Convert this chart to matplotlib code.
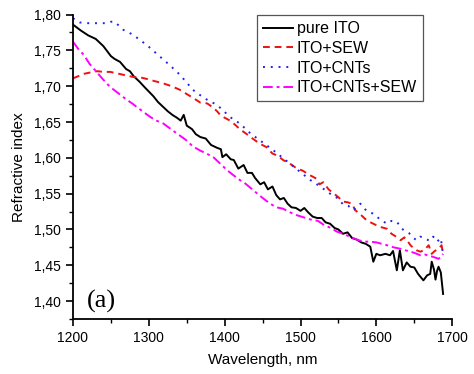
#!/usr/bin/env python3
"""Refractive index vs wavelength for ITO films (panel a)."""

import matplotlib
matplotlib.use("Agg")
import matplotlib.pyplot as plt
from matplotlib.ticker import MultipleLocator, FuncFormatter

# pure ITO
wl_ito = [1200, 1210, 1220, 1230, 1240, 1250, 1255, 1262, 1270, 1275, 1280, 1288,
          1295, 1306, 1312, 1319, 1325, 1331, 1337, 1342, 1346, 1350, 1357, 1362,
          1368, 1375, 1382, 1390, 1395, 1397, 1402, 1408, 1412, 1418, 1425, 1430,
          1436, 1440, 1447, 1452, 1457, 1463, 1468, 1473, 1478, 1483, 1488, 1494,
          1500, 1505, 1510, 1516, 1522, 1528, 1533, 1539, 1545, 1550, 1556, 1562,
          1568, 1574, 1580, 1586, 1592, 1596, 1600, 1605, 1612, 1618, 1622, 1627,
          1631, 1635, 1640, 1645, 1650, 1655, 1662, 1667, 1671, 1673, 1676, 1678,
          1680, 1682, 1685, 1688]
n_ito = [1.786, 1.778, 1.771, 1.766, 1.756, 1.742, 1.738, 1.734, 1.724, 1.721, 1.714, 1.706,
         1.698, 1.686, 1.678, 1.671, 1.665, 1.660, 1.656, 1.652, 1.660, 1.645, 1.640, 1.633,
         1.629, 1.627, 1.618, 1.614, 1.612, 1.601, 1.605, 1.598, 1.597, 1.585, 1.590, 1.579,
         1.579, 1.572, 1.563, 1.566, 1.556, 1.560, 1.548, 1.542, 1.544, 1.536, 1.531, 1.530,
         1.526, 1.530, 1.524, 1.518, 1.516, 1.516, 1.510, 1.508, 1.502, 1.500, 1.494, 1.496,
         1.488, 1.486, 1.482, 1.480, 1.476, 1.455, 1.466, 1.464, 1.466, 1.464, 1.470, 1.443,
         1.471, 1.443, 1.454, 1.448, 1.447, 1.438, 1.429, 1.436, 1.438, 1.455, 1.444, 1.430,
         1.442, 1.448, 1.440, 1.410]

# ITO+SEW
wl_sew = [1200, 1207, 1213, 1222, 1232, 1240, 1249, 1258, 1266, 1279, 1290, 1298,
          1308, 1319, 1330, 1341, 1350, 1358, 1368, 1377, 1385, 1390, 1394, 1400,
          1407, 1414, 1420, 1428, 1438, 1446, 1455, 1463, 1470, 1477, 1486, 1494,
          1503, 1512, 1521, 1525, 1530, 1537, 1543, 1550, 1556, 1562, 1568, 1572,
          1578, 1587, 1594, 1600, 1607, 1614, 1620, 1626, 1632, 1637, 1641, 1645,
          1649, 1653, 1658, 1663, 1669, 1673, 1677, 1682, 1686, 1688]
n_sew = [1.711, 1.714, 1.717, 1.719, 1.721, 1.720, 1.720, 1.718, 1.716, 1.713, 1.712, 1.710,
         1.707, 1.704, 1.700, 1.695, 1.689, 1.684, 1.677, 1.676, 1.670, 1.665, 1.660, 1.656,
         1.652, 1.646, 1.640, 1.634, 1.626, 1.620, 1.615, 1.606, 1.603, 1.597, 1.592, 1.586,
         1.582, 1.576, 1.571, 1.563, 1.566, 1.556, 1.551, 1.545, 1.539, 1.538, 1.536, 1.527,
         1.522, 1.513, 1.509, 1.506, 1.503, 1.501, 1.494, 1.490, 1.485, 1.489, 1.484, 1.478,
         1.474, 1.471, 1.469, 1.471, 1.478, 1.466, 1.470, 1.473, 1.478, 1.466]

# ITO+CNTs
wl_cnt = [1200, 1205, 1209, 1220, 1236, 1245, 1250, 1255, 1260, 1266, 1277, 1288,
          1300, 1315, 1328, 1341, 1350, 1358, 1367, 1377, 1386, 1394, 1400, 1407,
          1414, 1420, 1427, 1434, 1447, 1460, 1473, 1486, 1500, 1513, 1526, 1539,
          1550, 1556, 1563, 1570, 1579, 1587, 1596, 1605, 1614, 1620, 1627, 1632,
          1636, 1643, 1648, 1653, 1658, 1664, 1670, 1675, 1680, 1685, 1688]
n_cnt = [1.795, 1.791, 1.789, 1.788, 1.788, 1.788, 1.790, 1.790, 1.785, 1.779, 1.773, 1.765,
         1.755, 1.741, 1.729, 1.716, 1.705, 1.695, 1.688, 1.681, 1.676, 1.670, 1.664, 1.657,
         1.652, 1.648, 1.641, 1.634, 1.624, 1.614, 1.603, 1.592, 1.580, 1.569, 1.560, 1.550,
         1.543, 1.535, 1.533, 1.527, 1.536, 1.526, 1.522, 1.514, 1.508, 1.512, 1.511, 1.503,
         1.499, 1.495, 1.489, 1.485, 1.490, 1.488, 1.484, 1.490, 1.483, 1.488, 1.465]

# ITO+CNTs+SEW
wl_cnt_sew = [1200, 1207, 1214, 1222, 1231, 1240, 1249, 1260, 1271, 1278, 1284, 1293,
              1302, 1310, 1319, 1328, 1337, 1345, 1350, 1358, 1368, 1376, 1385, 1394,
              1403, 1410, 1420, 1425, 1433, 1442, 1450, 1460, 1468, 1477, 1486, 1495,
              1504, 1513, 1523, 1530, 1540, 1548, 1556, 1565, 1574, 1583, 1592, 1600,
              1607, 1614, 1623, 1632, 1638, 1645, 1651, 1658, 1664, 1671, 1677, 1682,
              1686, 1688]
n_cnt_sew = [1.762, 1.752, 1.744, 1.731, 1.720, 1.709, 1.699, 1.690, 1.681, 1.676, 1.671, 1.664,
             1.657, 1.652, 1.648, 1.641, 1.634, 1.628, 1.624, 1.616, 1.610, 1.606, 1.601, 1.592,
             1.583, 1.577, 1.569, 1.566, 1.559, 1.551, 1.544, 1.536, 1.531, 1.529, 1.524, 1.520,
             1.517, 1.514, 1.512, 1.507, 1.502, 1.497, 1.494, 1.490, 1.486, 1.483, 1.483, 1.482,
             1.480, 1.478, 1.475, 1.473, 1.471, 1.469, 1.467, 1.464, 1.465, 1.463, 1.461, 1.459,
             1.463, 1.466]

labels = ["pure ITO", "ITO+SEW", "ITO+CNTs", "ITO+CNTs+SEW"]

plt.rcParams["font.family"] = ["Liberation Sans", "DejaVu Sans"]

fig = plt.figure(figsize=(4.74, 3.74), dpi=100)
ax = fig.add_axes([0.154, 0.147, 0.800, 0.814])

ax.plot(wl_ito, n_ito, color="black", lw=1.4, ls="-", label=labels[0])
ax.plot(wl_sew, n_sew, color="#ee1111", lw=1.4, ls=(0, (3.5, 2.5)), label=labels[1])
ax.plot(wl_cnt, n_cnt, color="#2222ee", lw=1.4, ls=(0, (1, 3)), label=labels[2])
ax.plot(wl_cnt_sew, n_cnt_sew, color="#ff00ff", lw=1.4, ls=(0, (5, 2, 1.5, 2)),
        label=labels[3])

ax.set_xlim(1200, 1700)
ax.set_ylim(1.375, 1.80)
ax.xaxis.set_major_locator(MultipleLocator(100))
ax.xaxis.set_minor_locator(MultipleLocator(50))
ax.yaxis.set_major_locator(MultipleLocator(0.05))
ax.yaxis.set_minor_locator(MultipleLocator(0.025))
ax.yaxis.set_major_formatter(FuncFormatter(lambda v, _: f"{v:.2f}".replace(".", ",")))

for side in ("top", "right"):
    ax.spines[side].set_visible(False)
for side in ("left", "bottom"):
    ax.spines[side].set_linewidth(1.3)

ax.tick_params(which="major", direction="out", length=5, width=1.2, labelsize=10)
ax.tick_params(which="minor", direction="out", length=3, width=1.0)

ax.set_xlabel("Wavelength, nm", fontsize=11, labelpad=6)
ax.set_ylabel("Refractive index", fontsize=11, labelpad=6)

ax.text(1238, 1.40, "(a)", family=["Liberation Serif", "DejaVu Serif"], fontsize=19,
        ha="center", va="center")

leg = ax.legend(loc="upper right", bbox_to_anchor=(0.923, 0.997), borderaxespad=0,
                fontsize=11.5, handlelength=1.9, handletextpad=0.25, labelspacing=0.29,
                borderpad=0.36, fancybox=False, framealpha=1, edgecolor="#555555")
leg.get_frame().set_linewidth(0.9)

fig.savefig("out.png", dpi=100)
